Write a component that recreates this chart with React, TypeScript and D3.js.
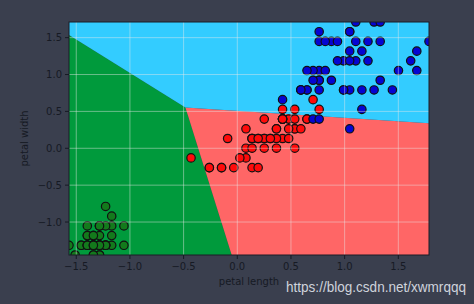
import React from "react";
import * as d3 from "d3";

// Iris petal length / width (cm), standardised below like sklearn's StandardScaler
const petalLength = [
  1.4,1.4,1.3,1.5,1.4,1.7,1.4,1.5,1.4,1.5,1.5,1.6,1.4,1.1,1.2,1.5,1.3,1.4,1.7,1.5,1.7,1.5,1.0,1.7,1.9,1.6,1.6,1.5,1.4,1.6,1.6,1.5,1.5,1.4,1.5,1.2,1.3,1.4,1.3,1.5,1.3,1.3,1.3,1.6,1.9,1.4,1.6,1.4,1.5,1.4,
  4.7,4.5,4.9,4.0,4.6,4.5,4.7,3.3,4.6,3.9,3.5,4.2,4.0,4.7,3.6,4.4,4.5,4.1,4.5,3.9,4.8,4.0,4.9,4.7,4.3,4.4,4.8,5.0,4.5,3.5,3.8,3.7,3.9,5.1,4.5,4.5,4.7,4.4,4.1,4.0,4.4,4.6,4.0,3.3,4.2,4.2,4.2,4.3,3.0,4.1,
  6.0,5.1,5.9,5.6,5.8,6.6,4.5,6.3,5.8,6.1,5.1,5.3,5.5,5.0,5.1,5.3,5.5,6.7,6.9,5.0,5.7,4.9,6.7,4.9,5.7,6.0,4.8,4.9,5.6,5.8,6.1,6.4,5.6,5.1,5.6,6.1,5.6,5.5,4.8,5.4,5.6,5.1,5.1,5.9,5.7,5.2,5.0,5.2,5.4,5.1,
];
const petalWidth = [
  0.2,0.2,0.2,0.2,0.2,0.4,0.3,0.2,0.2,0.1,0.2,0.2,0.1,0.1,0.2,0.4,0.4,0.3,0.3,0.3,0.2,0.4,0.2,0.5,0.2,0.2,0.4,0.2,0.2,0.2,0.2,0.4,0.1,0.2,0.2,0.2,0.2,0.1,0.2,0.2,0.3,0.3,0.2,0.6,0.4,0.3,0.2,0.2,0.2,0.2,
  1.4,1.5,1.5,1.3,1.5,1.3,1.6,1.0,1.3,1.4,1.0,1.5,1.0,1.4,1.3,1.4,1.5,1.0,1.5,1.1,1.8,1.3,1.5,1.2,1.3,1.4,1.4,1.7,1.5,1.0,1.1,1.0,1.2,1.6,1.5,1.6,1.5,1.3,1.3,1.3,1.2,1.4,1.2,1.0,1.3,1.2,1.3,1.3,1.1,1.3,
  2.5,1.9,2.1,1.8,2.2,2.1,1.7,1.8,1.8,2.5,2.0,1.9,2.1,2.0,2.4,2.3,1.8,2.2,2.3,1.5,2.3,2.0,2.0,1.8,2.1,1.8,1.8,1.8,2.1,1.6,1.9,2.0,2.2,1.5,1.4,2.3,2.4,1.8,1.8,2.1,2.4,2.3,1.9,2.3,2.5,2.3,1.9,2.0,2.3,1.8,
];
const classLabels = [0, 1, 2];
const classSize = 50;
const pointColors = ["#137a1c", "#ff0a0a", "#0505d2"];

// Decision regions (standardised data coordinates) of the linear classifier
const regionColors = ["#009a3c", "#ff6666", "#33ccff"];
const greenRegion = [[-1.5676, -1.4473], [-1.5676, 1.536], [-0.483, 0.553], [-0.052, -1.4473]];
const redRegion = [[-0.483, 0.553], [1.7859, 0.339], [1.7859, -1.4473], [-0.052, -1.4473]];
const cyanRegion = [[-1.5676, 1.536], [-1.5676, 1.7123], [1.7859, 1.7123], [1.7859, 0.339], [-0.483, 0.553]];

const xTicks = [-1.5, -1.0, -0.5, 0.0, 0.5, 1.0, 1.5];
const yTicks = [-1.0, -0.5, 0.0, 0.5, 1.0, 1.5];
const xLabel = "petal length";
const yLabel = "petal width";
const watermark = "https://blog.csdn.net/xwmrqqq";

function zscore(arr: number[]) {
  const m = d3.mean(arr) as number;
  const s = Math.sqrt(d3.mean(arr, (v) => (v - m) * (v - m)) as number);
  return arr.map((v) => (v - m) / s);
}

export default function App() {
  const W = 474, H = 304;
  const L = 69, R = 429, T = 22, B = 255;
  const xs = zscore(petalLength);
  const ys = zscore(petalWidth);
  const x = d3.scaleLinear().domain(d3.extent(xs) as [number, number]).range([L, R]);
  const y = d3.scaleLinear().domain(d3.extent(ys) as [number, number]).range([B, T]);
  const poly = (pts: number[][]) => pts.map(([a, b]) => `${x(a)},${y(b)}`).join(" ");
  const fmt = (v: number) => d3.format(".1f")(v).replace("-", "\u2212");
  const tickColor = "#161a24";
  const font = "DejaVu Sans, sans-serif";

  const points = xs.map((xv, i) => ({ x: xv, y: ys[i], c: classLabels[Math.floor(i / classSize)] }));

  return (
    <svg width={W} height={H} style={{ position: "absolute", left: 0, top: 0 }}>
      <rect x={0} y={0} width={W} height={H} fill="#3a3f4e" />
      <defs>
        <clipPath id="plotclip">
          <rect x={L} y={T} width={R - L} height={B - T} />
        </clipPath>
      </defs>
      <g clipPath="url(#plotclip)">
        <polygon points={poly(greenRegion)} fill={regionColors[0]} />
        <polygon points={poly(redRegion)} fill={regionColors[1]} />
        <polygon points={poly(cyanRegion)} fill={regionColors[2]} />
        {points.map((p, i) => (
          <circle key={i} cx={x(p.x)} cy={y(p.y)} r={4.2} fill={pointColors[p.c]} stroke="#111" strokeWidth={1.2} />
        ))}
        {xTicks.map((t) => (
          <line key={"gx" + t} x1={x(t)} x2={x(t)} y1={T} y2={B} stroke="#e8e8e8" strokeOpacity={0.45} strokeWidth={1} />
        ))}
        {yTicks.map((t) => (
          <line key={"gy" + t} x1={L} x2={R} y1={y(t)} y2={y(t)} stroke="#e8e8e8" strokeOpacity={0.45} strokeWidth={1} />
        ))}
      </g>
      <rect x={L} y={T} width={R - L} height={B - T} fill="none" stroke="#1a1d26" strokeWidth={1} />
      {xTicks.map((t) => (
        <g key={"tx" + t}>
          <line x1={x(t)} x2={x(t)} y1={B} y2={B + 4} stroke={tickColor} strokeWidth={1} />
          <text x={x(t)} y={B + 15} textAnchor="middle" fontFamily={font} fontSize={10} fill={tickColor}>{fmt(t)}</text>
        </g>
      ))}
      {yTicks.map((t) => (
        <g key={"ty" + t}>
          <line x1={L - 4} x2={L} y1={y(t)} y2={y(t)} stroke={tickColor} strokeWidth={1} />
          <text x={L - 7} y={y(t)} dy="0.35em" textAnchor="end" fontFamily={font} fontSize={10} fill={tickColor}>{fmt(t)}</text>
        </g>
      ))}
      <text x={(L + R) / 2} y={B + 30} textAnchor="middle" fontFamily={font} fontSize={10} fill={tickColor}>{xLabel}</text>
      <text transform={`translate(28,${(T + B) / 2}) rotate(-90)`} textAnchor="middle" fontFamily={font} fontSize={10} fill={tickColor}>{yLabel}</text>
      <text x={286} y={292} fontFamily="Liberation Sans, Arial, sans-serif" fontSize={14} fill="#cfd3dc" textLength={180} lengthAdjust="spacingAndGlyphs">{watermark}</text>
    </svg>
  );
}
